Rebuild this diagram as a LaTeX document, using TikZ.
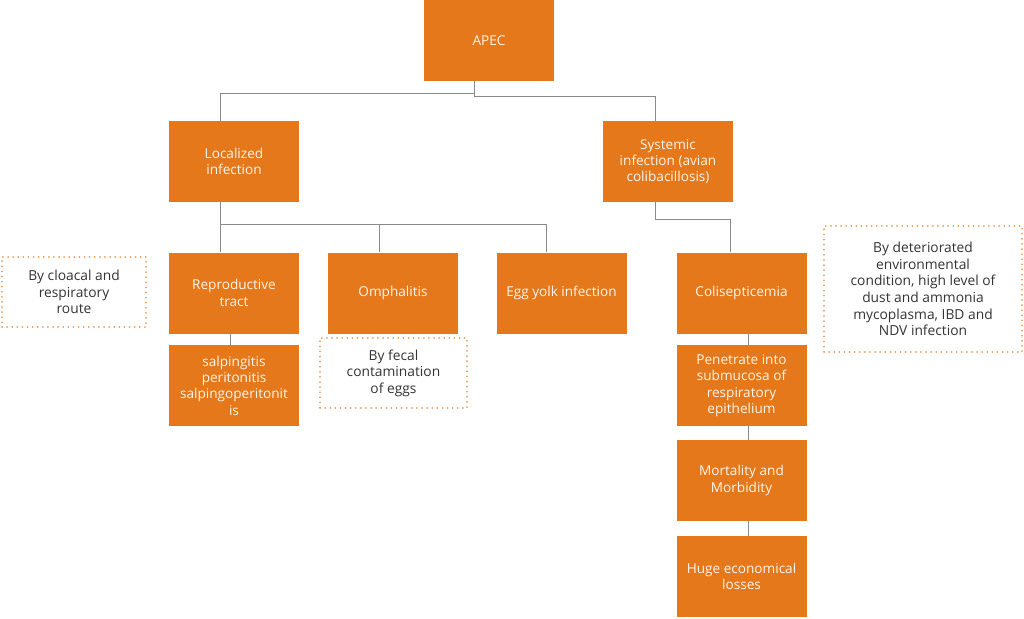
\documentclass[tikz,border=0pt]{standalone}
\usepackage{fontspec}
\setmainfont{Open Sans}
\definecolor{boxor}{HTML}{E4781A}
\definecolor{lineg}{HTML}{8A8A8A}
\definecolor{dotor}{HTML}{E89A5A}
\definecolor{txt}{HTML}{333333}
\begin{document}
\begin{tikzpicture}[x=1pt,y=-1pt,
  obox/.style={fill=boxor,draw=none,minimum width=130pt,minimum height=81pt,inner sep=0pt,
    text=white!92!orange,align=center,font=\fontsize{13.6}{16.4}\selectfont},
  dbox/.style={draw=dotor,line width=1.8pt,dash pattern=on 0.1pt off 5pt,line cap=round,
    inner sep=0pt,text=txt,align=center,font=\fontsize{13.8}{16.6}\selectfont},
  conn/.style={draw=lineg,line width=0.8pt}]
\useasboundingbox (0,0) rectangle (1024,618);
% orange boxes
\node[obox] (apec) at (489,40.5) {APEC};
\node[obox] (loc) at (234,161.5) {Localized\\infection};
\node[obox] (sys) at (668,161.5) {Systemic\\infection (avian\\colibacillosis)};
\node[obox] (rep) at (234,293) {Reproductive\\tract};
\node[obox] (omp) at (393,293) {Omphalitis};
\node[obox] (egg) at (561.5,293) {Egg yolk infection};
\node[obox] (coli) at (741.5,293) {Colisepticemia};
\node[obox] (salp) at (234,385.5) {salpingitis\\peritonitis\\salpingoperitonit\\is};
\node[obox] (pen) at (741.5,385.5) {Penetrate into\\submucosa of\\respiratory\\epithelium};
\node[obox] (mort) at (741.5,480.5) {Mortality and\\Morbidity};
\node[obox] (huge) at (741.5,576.5) {Huge economical\\losses};
% dotted boxes
\node[dbox,minimum width=144pt,minimum height=70pt] (clo) at (74,292) {By cloacal and\\respiratory\\route};
\node[dbox,minimum width=147pt,minimum height=70pt] (fec) at (393.5,373) {By fecal\\contamination\\of eggs};
\node[dbox,minimum width=198pt,minimum height=126pt] (det) at (923,289) {By deteriorated\\environmental\\condition, high level of\\dust and ammonia\\mycoplasma, IBD and\\NDV infection};
% connectors
\draw[conn] (apec.south -| 474,0) |- (220,93) -- (loc.north -| 220,0);
\draw[conn] (apec.south -| 474,0) |- (655,96) -- (sys.north -| 655,0);
\draw[conn] (loc.south -| 220,0) |- (379,224) -- (omp.north -| 379,0);
\draw[conn] (220,224) -- (rep.north -| 220,0);
\draw[conn] (379,224) -| (egg.north -| 546,0);
\draw[conn] (sys.south -| 655,0) |- (730,219) -- (coli.north -| 730,0);
\draw[conn] (rep.south -| 230,0) -- (salp.north -| 230,0);
\draw[conn] (coli.south -| 748,0) -- (pen.north -| 748,0);
\draw[conn] (pen.south -| 748,0) -- (mort.north -| 748,0);
\draw[conn] (mort.south -| 748,0) -- (huge.north -| 748,0);
\end{tikzpicture}
\end{document}
